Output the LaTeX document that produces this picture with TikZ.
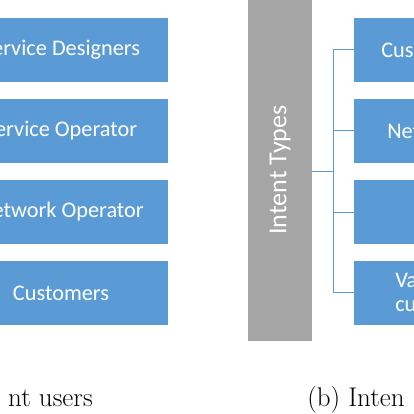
\documentclass[tikz,border=0pt]{standalone}
\usepackage{tikz}
\usetikzlibrary{arrows}
\usepackage{fontspec}
\usepackage{xcolor}
\newfontfamily\boxfont{Carlito}
\definecolor{userblue}{HTML}{5B9BD5}
\definecolor{bargray}{HTML}{A5A5A5}

\begin{document}
\begin{tikzpicture}[x=1pt,y=-1pt,node distance=81pt,semithick]
    \tikzstyle{userbox}=[fill=userblue,draw=none,text=white,font=\boxfont\fontsize{22.3}{24}\selectfont,minimum width=214pt,minimum height=64pt,inner sep=0pt]
    \tikzstyle{typebox}=[userbox,minimum width=0pt,text width=150pt,align=left,anchor=west]
    \tikzstyle{typebar}=[fill=bargray,draw=none,text=white,font=\boxfont\fontsize{26}{28}\selectfont,minimum width=342pt,minimum height=64pt,inner sep=0pt]
    \tikzstyle{link}=[draw=userblue,line width=1pt]
    \tikzstyle{caption}=[font=\fontsize{27}{30}\selectfont,inner sep=0pt]

    \useasboundingbox (0,0) rectangle (414,414);
    \clip (0,0) rectangle (414,414);

    % (a) users
    \node[userbox] (SD)              at (61,50) {Service Designers};
    \node[userbox] (SO) [below of=SD]           {Service Operator};
    \node[userbox] (NO) [below of=SO]           {Network Operator};
    \node[userbox] (CU) [below of=NO]           {Customers};
    \node[caption,anchor=base east] (CA) at (93,406) {nt users};

    % (b) types
    \node[typebar,rotate=90] (IT) at (280,170) {Intent Types};
    \node[typebox,inner xsep=27pt] (T1) at (354,50)    {Cus};
    \node[typebox,inner xsep=33pt] (T2) at (354,131)   {Net};
    \node[typebox,inner xsep=33pt] (T3) at (354,212)   {};
    \node[typebox,inner xsep=41pt] (T4) at (354,292.5) {Va\\cu};
    \node[caption,anchor=base west] (CB) at (307,406) {(b) Inten};

    \coordinate (J) at (333,171);
    \draw[link] (IT.south |- J) -- (J);
    \foreach \t in {T1,T2,T3,T4}
        \draw[link] (J) |- (\t.west);
\end{tikzpicture}
\end{document}
